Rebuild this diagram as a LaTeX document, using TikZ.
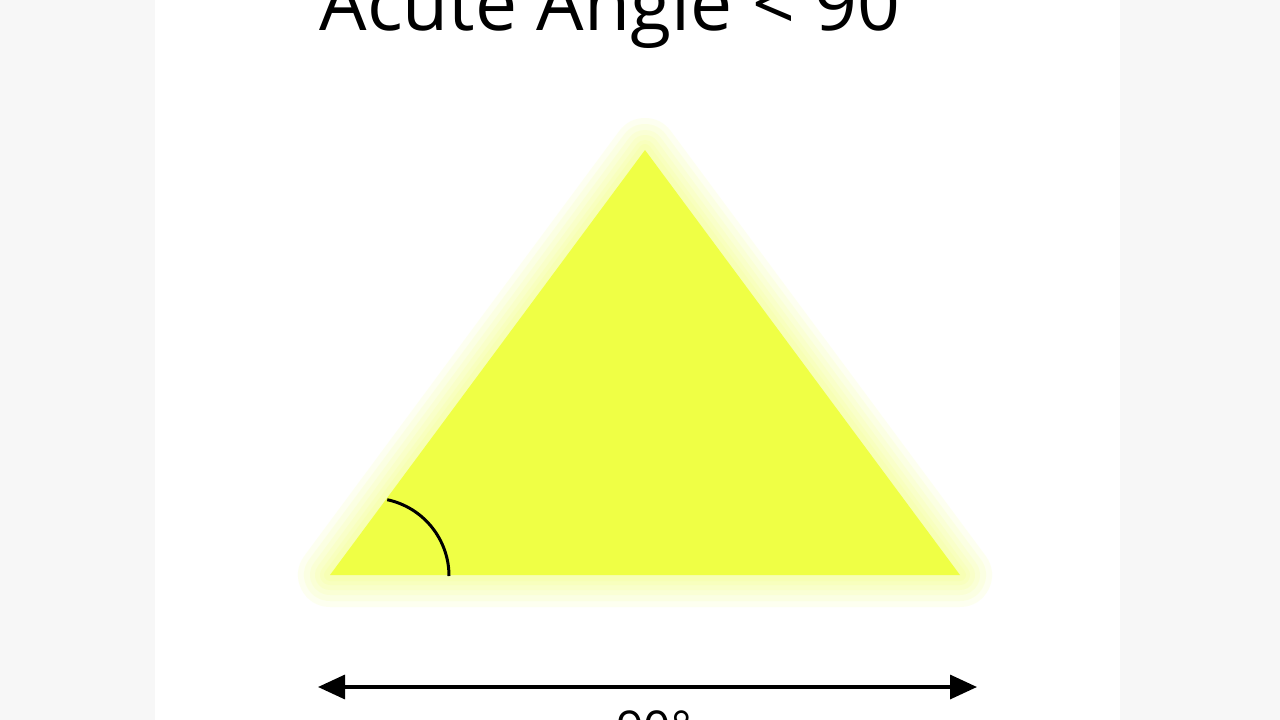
\documentclass[tikz,border=0pt]{standalone}
\usepackage{fontspec}
\setmainfont{Open Sans}
\usetikzlibrary{arrows.meta}
\definecolor{bgside}{HTML}{F7F7F7}
\definecolor{tri}{HTML}{EFFF45}
\tikzset{
  glow/.style={draw=tri, line join=round, line width=#1, draw opacity=0.08},
  angarc/.style={draw=black, line width=3pt},
  dimarrow/.style={draw=black, line width=3.4pt, {Triangle[length=27pt,width=24pt]}-{Triangle[length=27pt,width=24pt]}},
  lbl/.style={font=\fontsize{75}{82}\selectfont, inner sep=0pt, anchor=base}
}
\begin{document}
\begin{tikzpicture}[x=1pt,y=-1pt]
\useasboundingbox (0,0) rectangle (1280,720);
\fill[bgside] (0,0) rectangle (1280,720);
\fill[white] (155,0) rectangle (1120,720);
% glow
\foreach \w in {64,52,40,30,20,12}{
  \path[glow=\w pt] (645,150) -- (330,575) -- (960,575) -- cycle;
}
\fill[tri] (645,150) coordinate (apex) -- (330,575) coordinate (bl) -- (960,575) coordinate (br) -- cycle;
% angle arc
\draw[angarc] (371,576) ++(-78:78) arc[start angle=-78, end angle=0, radius=78];
% title
\node[lbl] (title) at (610,30) {Acute Angle < 90};
% arrow
\coordinate (al) at (318,687);
\coordinate (ar) at (977,687);
\draw[dimarrow] (al) -- (ar);
\node[lbl, font=\fontsize{48}{56}\selectfont] (deg) at (654,745) {90°};
\end{tikzpicture}
\end{document}
